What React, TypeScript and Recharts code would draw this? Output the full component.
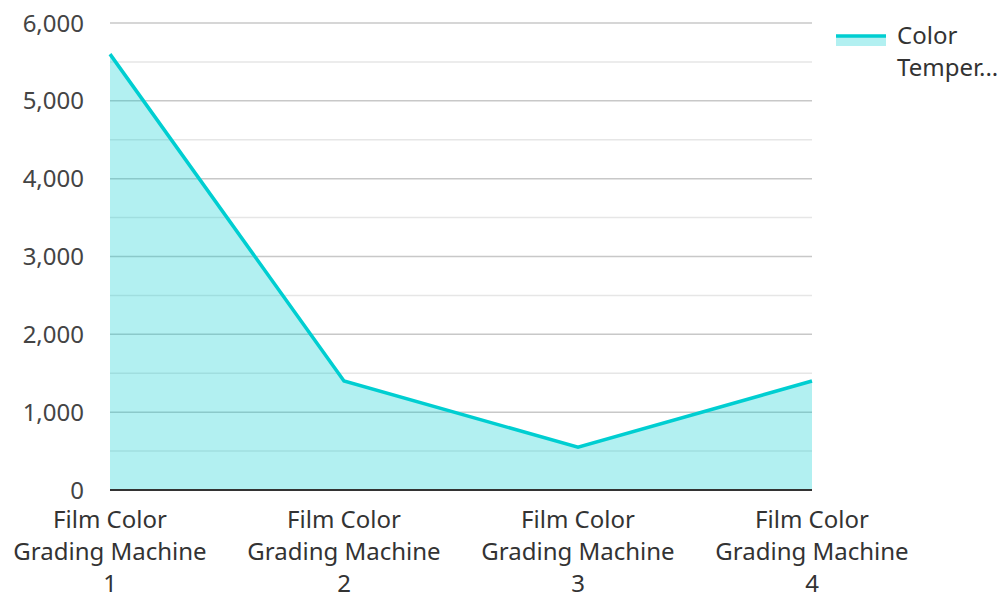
import { AreaChart, Area, XAxis, YAxis, CartesianGrid, Legend } from 'recharts'

const categories = ['Film Color Grading Machine 1', 'Film Color Grading Machine 2', 'Film Color Grading Machine 3', 'Film Color Grading Machine 4']
const colorTemperature = [5600, 1400, 550, 1400]
const yTicks = [0, 1000, 2000, 3000, 4000, 5000, 6000]
const minorLines = [500, 1500, 2500, 3500, 4500, 5500]

const data = categories.map((name, i) => ({ name, value: colorTemperature[i] }))

const FONT = '"Noto Sans", "Open Sans", sans-serif'
const TEAL = '#00CED1'

function XTick({ x, y, payload }: any) {
  const words = String(payload.value).split(' ')
  const lines = [words.slice(0, 2).join(' '), words.slice(2, 4).join(' '), words.slice(4).join(' ')]
  return (
    <text x={x} y={y} textAnchor="middle" fill="#333" fontSize={24} fontFamily={FONT}>
      {lines.map((l, i) => (
        <tspan key={i} x={x} dy={i === 0 ? 30 : 32}>{l}</tspan>
      ))}
    </text>
  )
}

function LegendContent() {
  return (
    <svg width={170} height={80} style={{ display: 'block' }}>
      <rect x={2} y={14} width={50} height={10} fill={TEAL} fillOpacity={0.3} />
      <line x1={2} x2={52} y1={14} y2={14} stroke={TEAL} strokeWidth={3.5} />
      <text x={63} y={22} fill="#333" fontSize={24} fontFamily={FONT}>Color</text>
      <text x={63} y={54} fill="#333" fontSize={24} fontFamily={FONT}>Temper...</text>
    </svg>
  )
}

export default function App() {
  return (
    <div style={{ position: 'absolute', left: 0, top: 0, background: '#fff' }}>
      <AreaChart width={1002} height={594} data={data} margin={{ top: 23, right: 0, bottom: 0, left: 0 }}>
        <CartesianGrid vertical={false} horizontalValues={minorLines} stroke="#e6e6e6" strokeWidth={1.5} />
        <CartesianGrid vertical={false} horizontalValues={yTicks} stroke="#c8c8c8" strokeWidth={1.5} />
        <XAxis dataKey="name" tick={<XTick />} tickLine={false} axisLine={{ stroke: '#333', strokeWidth: 2 }} height={104} interval={0} />
        <YAxis domain={[0, 6000]} ticks={yTicks} width={110} tickLine={false} axisLine={false} tickSize={0} tickMargin={26}
          tick={{ fontSize: 24, fill: '#444', fontFamily: FONT }} tickFormatter={(v: number) => v.toLocaleString('en-US')} />
        <Legend verticalAlign="top" align="right" layout="vertical" content={<LegendContent />}
          wrapperStyle={{ top: 22, left: 834, width: 190, height: 80 }} />
        <Area type="linear" dataKey="value" stroke={TEAL} strokeWidth={3.5} fill={TEAL} fillOpacity={0.3} isAnimationActive={false} />
      </AreaChart>
    </div>
  )
}
